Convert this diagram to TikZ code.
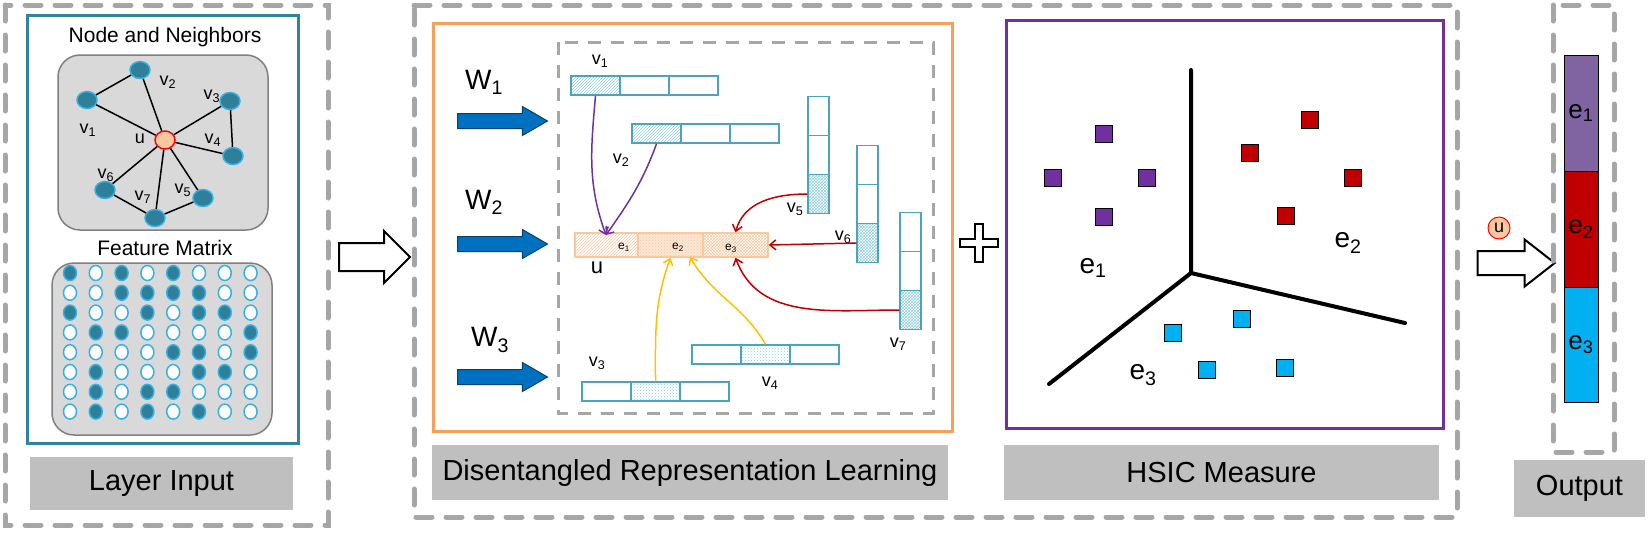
\documentclass[tikz,border=0pt]{standalone}
\usepackage{fontspec}
\setmainfont{Liberation Sans}
\usetikzlibrary{arrows.meta,shapes.arrows,shapes.geometric,patterns}
\definecolor{dgray}{HTML}{A6A6A6}
\definecolor{lbox}{HTML}{BFBFBF}
\definecolor{panel}{HTML}{D9D9D9}
\definecolor{tealb}{HTML}{31849B}
\definecolor{dotf}{HTML}{2E7F99}
\definecolor{dotb}{HTML}{3AB0E0}
\definecolor{cellb}{HTML}{4BA3BE}
\definecolor{hatch}{HTML}{92CDDC}
\definecolor{orng}{HTML}{F7A05A}
\definecolor{uorng}{HTML}{F9C8A0}
\definecolor{purp}{HTML}{7030A0}
\definecolor{arrblue}{HTML}{0070C0}
\definecolor{ered}{HTML}{C00000}
\definecolor{ecyan}{HTML}{00B0F0}
\definecolor{epurp}{HTML}{8064A2}
\definecolor{yel}{HTML}{FFC000}
\newcommand{\sub}[1]{\textsubscript{#1}}
\tikzset{
  fs/.style={font=\fontsize{#1}{#1}\selectfont},
  outerdash/.style={draw=dgray, line width=5pt, dash pattern=on 16pt off 14pt, line cap=round},
  innerdash/.style={draw=dgray, line width=3pt, dash pattern=on 13pt off 10pt},
  lab/.style={fill=lbox, inner sep=0, fs=29},
  gnode/.style={ellipse, fill=dotf, draw=dotb, line width=1.5pt, minimum width=20pt, minimum height=17pt, inner sep=0},
  gedge/.style={line width=1.5pt},
  glab/.style={fs=18},
  fdot/.style={ellipse, draw=dotb, line width=1.5pt, minimum width=13pt, minimum height=15pt, inner sep=0},
  cell/.style={rectangle, draw=cellb, line width=1.5pt, minimum width=49pt, minimum height=19pt, inner sep=0},
  vcell/.style={rectangle, draw=cellb, line width=1.5pt, minimum width=21pt, minimum height=39pt, inner sep=0},
  ucell/.style={rectangle, draw=uorng, line width=1.5pt, minimum width=65pt, minimum height=24pt, inner sep=0},
  blue arrow/.style={single arrow, fill=arrblue, draw=arrblue!60!black, line width=1pt, inner sep=0,
    single arrow head extend=7pt, single arrow tip angle=60, minimum height=90pt},
  hollow arrow/.style={single arrow, fill=white, draw=black, line width=2pt, inner sep=0},
  conn/.style={line width=1.5pt, -{Straight Barb[length=6pt,width=10pt]}},
  sq/.style={rectangle, draw=black, line width=1pt, minimum size=17pt, inner sep=0},
  axis/.style={line width=4pt, line cap=round},
}
\begin{document}
\begin{tikzpicture}[x=1pt,y=-1pt]
\useasboundingbox (0,0) rectangle (1648,542);

% ---------- layer input ----------
\draw[outerdash] (5,5) rectangle (328,525);
\draw[tealb, line width=3pt] (27,15) rectangle (298,443);
\node[fs=21] (t1) at (165,37) {Node and Neighbors};
\draw[draw=gray, fill=panel, line width=1.5pt, rounded corners=22pt] (58,55) rectangle (268,230);
\node[gnode] (v2) at (140,70) {};
\node[gnode] (v1) at (87,100) {};
\node[gnode] (v3) at (230,101) {};
\node[gnode] (v4) at (233,156) {};
\node[gnode] (v6) at (105,190) {};
\node[gnode] (v7) at (155,218) {};
\node[gnode] (v5) at (203,198) {};
\node[ellipse, fill=uorng, draw=red, line width=1.5pt, minimum width=20pt, minimum height=18pt, inner sep=0] (u) at (165,140) {};
\draw[gedge] (v1) -- (v2) (v1) -- (u) (v2) -- (u) (v3) -- (u) (v3) -- (v4) (v4) -- (u)
  (v6) -- (u) (v7) -- (u) (v5) -- (u) (v6) -- (v7) (v7) -- (v5);
\node[glab] (lv2) at (168,82) {v\sub{2}};
\node[glab] (lv1) at (88,130) {v\sub{1}};
\node[glab] (lu) at (140,139) {u};
\node[glab] (lv3) at (212,96) {v\sub{3}};
\node[glab] (lv4) at (213,140) {v\sub{4}};
\node[glab] (lv6) at (106,175) {v\sub{6}};
\node[glab] (lv7) at (143,197) {v\sub{7}};
\node[glab] (lv5) at (183,190) {v\sub{5}};
\node[fs=21] (t2) at (165,248) {Feature Matrix};
\draw[draw=gray, fill=panel, line width=1.5pt, rounded corners=22pt] (52,263) rectangle (272,435);
\foreach \row [count=\r from 0] in {{1,0,1,0,1,0,0,0},{0,0,1,1,1,1,0,0},{1,0,0,1,0,1,1,0},{0,1,1,0,0,0,0,1},
  {0,0,0,0,1,1,0,1},{0,1,0,0,0,1,1,0},{0,1,0,1,1,0,0,0},{0,1,0,1,0,1,0,0}}{
  \foreach \v [count=\c from 0] in \row {
    \ifnum\v=1
      \node[fdot, fill=dotf] (m\r\c) at ({70+25.8*\c},{273+19.8*\r}) {};
    \else
      \node[fdot, fill=white] (m\r\c) at ({70+25.8*\c},{273+19.8*\r}) {};
    \fi
  }
}
\node[lab, minimum width=263pt, minimum height=53pt] (l1) at (161.5,483.5) {Layer Input};

\node[hollow arrow, single arrow head extend=12pt, single arrow tip angle=90, minimum height=71pt] (a1) at (367.5,257) {\rule{0pt}{26pt}};

% ---------- disentangled representation ----------
\draw[outerdash] (414,5) -- (1457,5) -- (1457,517) -- (414,517) -- cycle;
\draw[orng, line width=3pt] (433,23) rectangle (952,431);
\draw[innerdash] (558,42) rectangle (933,413);
\node[lab, minimum width=516pt, minimum height=55pt] (l2) at (690,472.5) {Disentangled Representation Learning};

\node[fs=28] (w1) at (484,82) {W\sub{1}};
\node[fs=28] (w2) at (484,202) {W\sub{2}};
\node[fs=28] (w3) at (490,340) {W\sub{3}};
\node[blue arrow] (b1) at (496,121) {\rule{0pt}{14pt}};
\node[blue arrow] (b2) at (496,244) {\rule{0pt}{14pt}};
\node[blue arrow] (b3) at (496,377) {\rule{0pt}{14pt}};

% horizontal vectors
\node[cell, pattern=north east lines, pattern color=hatch] (v1a) at (595.5,85.5) {};
\node[cell] (v1b) at (644.5,85.5) {};
\node[cell] (v1c) at (693.5,85.5) {};
\node[glab] (lx1) at (600,61) {v\sub{1}};
\node[cell, pattern=north east lines, pattern color=hatch] (v2a) at (656.5,133.5) {};
\node[cell] (v2b) at (705.5,133.5) {};
\node[cell] (v2c) at (754.5,133.5) {};
\node[glab] (lx2) at (621,160) {v\sub{2}};
\node[cell] (v3a) at (606.5,391.5) {};
\node[cell, pattern=crosshatch dots, pattern color=hatch] (v3b) at (655.5,391.5) {};
\node[cell] (v3c) at (704.5,391.5) {};
\node[glab] (lx3) at (597,363) {v\sub{3}};
\node[cell] (v4a) at (716.5,354.5) {};
\node[cell, pattern=crosshatch dots, pattern color=hatch] (v4b) at (765.5,354.5) {};
\node[cell] (v4c) at (814.5,354.5) {};
\node[glab] (lx4) at (770,383) {v\sub{4}};
% vertical vectors
\node[vcell] (v5a) at (818.5,116) {};
\node[vcell] (v5b) at (818.5,155) {};
\node[vcell, pattern=crosshatch, pattern color=hatch] (v5c) at (818.5,194) {};
\node[glab] (lx5) at (795,209) {v\sub{5}};
\node[vcell] (v6a) at (867.5,165) {};
\node[vcell] (v6b) at (867.5,204) {};
\node[vcell, pattern=crosshatch, pattern color=hatch] (v6c) at (867.5,243) {};
\node[glab] (lx6) at (843,237) {v\sub{6}};
\node[vcell] (v7a) at (910.5,232) {};
\node[vcell] (v7b) at (910.5,271) {};
\node[vcell, pattern=crosshatch, pattern color=hatch] (v7c) at (910.5,310) {};
\node[glab] (lx7) at (898,344) {v\sub{7}};
% target vector u
\node[ucell, pattern=north east lines, pattern color=uorng] (u1) at (607.5,245) {};
\node[ucell, fill=uorng!45] (u2) at (670.5,245) {};
\node[ucell, pattern=crosshatch dots, pattern color=uorng] at (670.5,245) {};
\node[ucell, pattern=crosshatch, pattern color=uorng] (u3) at (735.5,245) {};
\node[fs=12] (le1) at (624,247) {e\sub{1}};
\node[fs=12] (le2) at (678,247) {e\sub{2}};
\node[fs=12] (le3) at (731,248) {e\sub{3}};
\node[fs=22] (lxu) at (597,268) {u};
\coordinate (tp) at (606,235);
\coordinate (ty) at (690,257);
\draw[conn, draw=purp] (v1a.south) to[out=-95, in=110] (tp);
\draw[conn, draw=purp] (v2a.south) to[out=-110, in=55] (tp);
\draw[conn, draw=ered] (v5c.west) to[out=180, in=75] (u3.north);
\draw[conn, draw=ered] (v6c.west) -- (u3.east);
\draw[conn, draw=ered] (v7c.west) to[out=180, in=-70] (u3.south);
\draw[conn, draw=yel] (v3b.north) to[out=90, in=-110] (u2.south);
\draw[conn, draw=yel] (v4b.north) to[out=120, in=-60] (ty);

% plus sign
\draw[line width=2pt, fill=white] (975,224) -- (983,224) -- (983,239) -- (998,239) -- (998,247) -- (983,247)
  -- (983,262) -- (975,262) -- (975,247) -- (960,247) -- (960,239) -- (975,239) -- cycle;

% ---------- HSIC ----------
\draw[purp, line width=3pt] (1006,20) rectangle (1443,428);
\node[lab, minimum width=435pt, minimum height=55pt] (l3) at (1221.5,472.5) {HSIC Measure};
\coordinate (o) at (1191,273);
\coordinate (ax1) at (1191,70);
\coordinate (ax2) at (1049,384);
\coordinate (ax3) at (1405,323);
\draw[axis] (ax1) -- (o) -- (ax3) (o) -- (ax2);
\foreach \p [count=\i] in {(1104,134),(1053,178),(1147,178),(1104,217)} \node[sq, fill=purp] (p\i) at \p {};
\foreach \p [count=\i] in {(1310,120),(1250,153),(1353,178),(1286,216)} \node[sq, fill=ered] (r\i) at \p {};
\foreach \p [count=\i] in {(1173,333),(1242,319),(1207,370),(1285,368)} \node[sq, fill=ecyan] (c\i) at \p {};
\node[fs=28] (h1) at (1093,268) {e\sub{1}};
\node[fs=28] (h2) at (1348,243) {e\sub{2}};
\node[fs=28] (h3) at (1143,375) {e\sub{3}};

% ---------- output ----------
\node[circle, fill=uorng, draw=red, line width=1pt, minimum size=22pt, inner sep=0, fs=18] (uo) at (1499,228) {u};
\node[hollow arrow, single arrow head extend=11.5pt, single arrow tip angle=76, minimum height=77pt] (a2) at (1508.5,263) {\rule{0pt}{22pt}};
\draw[outerdash] (1553,5) rectangle (1614,452);
\node[rectangle, draw=black, fill=epurp, line width=1pt, minimum width=34pt, minimum height=116pt, inner sep=0, fs=26] (o1) at (1581,113) {e\sub{1}};
\node[rectangle, draw=black, fill=ered, line width=1pt, minimum width=34pt, minimum height=116pt, inner sep=0, fs=26] (o2) at (1581,229) {e\sub{2}};
\node[rectangle, draw=black, fill=ecyan, line width=1pt, minimum width=34pt, minimum height=115pt, inner sep=0, fs=26] (o3) at (1581,344.5) {e\sub{3}};
\node[lab, minimum width=131pt, minimum height=57pt] (l4) at (1579.5,488.5) {Output};
\end{tikzpicture}
\end{document}
